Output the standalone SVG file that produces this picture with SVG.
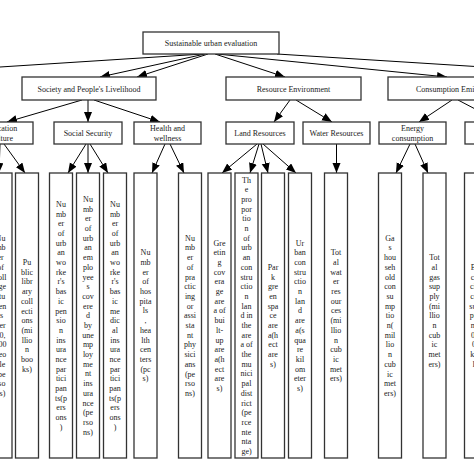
<svg xmlns="http://www.w3.org/2000/svg" width="474" height="474" viewBox="0 0 474 474">
<defs>
<marker id="ah" markerUnits="userSpaceOnUse" markerWidth="11" markerHeight="9" refX="10" refY="4" orient="auto">
<path d="M0,0 L10,4 L0,8 z" fill="#000"/>
</marker>
<style>
.box{fill:#fff;stroke:#333;stroke-width:1.3}
.t{font-family:"Liberation Serif","Times New Roman",serif;font-size:8px;fill:#222;text-anchor:middle}
.e{stroke:#000;stroke-width:1;fill:none;marker-end:url(#ah)}
</style>
</defs>
<rect width="474" height="474" fill="#fff"/>
<g id="connectors">
<line class="e" x1="203" y1="54" x2="-156" y2="77"/>
<line class="e" x1="205" y1="54" x2="100" y2="77"/>
<line class="e" x1="208" y1="54" x2="137" y2="77"/>
<line class="e" x1="215" y1="54" x2="285" y2="77"/>
<line class="e" x1="217" y1="54" x2="447" y2="77"/>
<line class="e" x1="277" y1="54" x2="642" y2="77"/>
<line class="e" x1="82" y1="100" x2="7" y2="122"/>
<line class="e" x1="88" y1="100" x2="88" y2="122"/>
<line class="e" x1="94" y1="100" x2="160" y2="122"/>
<line class="e" x1="290" y1="100" x2="274" y2="122"/>
<line class="e" x1="296" y1="100" x2="332" y2="122"/>
<line class="e" x1="452" y1="100" x2="419" y2="122"/>
<line class="e" x1="458" y1="100" x2="500" y2="122"/>
<line class="e" x1="0" y1="144" x2="-1" y2="173"/>
<line class="e" x1="4" y1="144" x2="25" y2="173"/>
<line class="e" x1="86" y1="144" x2="68" y2="173"/>
<line class="e" x1="88" y1="144" x2="88" y2="173"/>
<line class="e" x1="90" y1="144" x2="108" y2="173"/>
<line class="e" x1="165" y1="144" x2="152" y2="173"/>
<line class="e" x1="170" y1="144" x2="184" y2="173"/>
<line class="e" x1="257" y1="144" x2="222" y2="173"/>
<line class="e" x1="259" y1="144" x2="250" y2="173"/>
<line class="e" x1="261" y1="144" x2="268" y2="173"/>
<line class="e" x1="263" y1="144" x2="296" y2="173"/>
<line class="e" x1="336.5" y1="144" x2="336.5" y2="173"/>
<line class="e" x1="410" y1="144" x2="396" y2="173"/>
<line class="e" x1="415" y1="144" x2="428" y2="173"/>
</g>
<g id="root"><rect class="box" x="143" y="32" width="136" height="22"/><text class="t" x="211" y="46">Sustainable urban evaluation</text></g>
<g id="society"><rect class="box" x="22" y="77" width="134" height="23"/><text class="t" x="89" y="91.5">Society and People's Livelihood</text></g>
<g id="resource"><rect class="box" x="226" y="77" width="135" height="23"/><text class="t" x="293.5" y="91.5">Resource Environment</text></g>
<g id="consumption"><rect class="box" x="388" y="77" width="134" height="23"/><text class="t" x="455" y="91.5">Consumption Emissions</text></g>
<g id="education"><rect class="box" x="-31" y="122" width="64" height="22"/><text class="t" x="1" y="131"><tspan x="1">Education</tspan><tspan x="1" dy="9.5">Culture</tspan></text></g>
<g id="social"><rect class="box" x="54" y="122" width="68" height="22"/><text class="t" x="88" y="136">Social Security</text></g>
<g id="health"><rect class="box" x="134" y="122" width="67" height="22"/><text class="t" x="167.5" y="131"><tspan x="167.5">Health and</tspan><tspan x="167.5" dy="9.5">wellness</tspan></text></g>
<g id="land"><rect class="box" x="226" y="122" width="68" height="22"/><text class="t" x="260" y="136">Land Resources</text></g>
<g id="water"><rect class="box" x="303" y="122" width="67" height="22"/><text class="t" x="336.5" y="136">Water Resources</text></g>
<g id="energy"><rect class="box" x="379" y="122" width="67" height="22"/><text class="t" x="412.5" y="131"><tspan x="412.5">Energy</tspan><tspan x="412.5" dy="9.5">consumption</tspan></text></g>
<g id="next3"><rect class="box" x="465" y="122" width="67" height="22"/></g>

<g id="a"><rect class="box" x="-11" y="173" width="23" height="285"/><text class="t" y="240.7"><tspan x="0.5">Nu</tspan><tspan x="0.5" dy="9.7">mb</tspan><tspan x="0.5" dy="9.7">er</tspan><tspan x="0.5" dy="9.7">of</tspan><tspan x="0.5" dy="9.7">coll</tspan><tspan x="0.5" dy="9.7">ege</tspan><tspan x="0.5" dy="9.7">stu</tspan><tspan x="0.5" dy="9.7">den</tspan><tspan x="0.5" dy="9.7">ts</tspan><tspan x="0.5" dy="9.7">per</tspan><tspan x="0.5" dy="9.7">10,</tspan><tspan x="0.5" dy="9.7">000</tspan><tspan x="0.5" dy="9.7">peo</tspan><tspan x="0.5" dy="9.7">ple</tspan><tspan x="0.5" dy="9.7">(pe</tspan><tspan x="0.5" dy="9.7">rso</tspan><tspan x="0.5" dy="9.7">ns)</tspan></text></g>

<g id="b"><rect class="box" x="15.5" y="173" width="23" height="285"/><text class="t" y="265"><tspan x="27">Pu</tspan><tspan x="27" dy="9.7">blic</tspan><tspan x="27" dy="9.7">libr</tspan><tspan x="27" dy="9.7">ary</tspan><tspan x="27" dy="9.7">coll</tspan><tspan x="27" dy="9.7">ecti</tspan><tspan x="27" dy="9.7">ons</tspan><tspan x="27" dy="9.7">(mi</tspan><tspan x="27" dy="9.7">llio</tspan><tspan x="27" dy="9.7">n</tspan><tspan x="27" dy="9.7">boo</tspan><tspan x="27" dy="9.7">ks)</tspan></text></g>

<g id="c"><rect class="box" x="49.5" y="173" width="23" height="285"/><text class="t" y="206.8"><tspan x="61">Nu</tspan><tspan x="61" dy="9.7">mb</tspan><tspan x="61" dy="9.7">er</tspan><tspan x="61" dy="9.7">of</tspan><tspan x="61" dy="9.7">urb</tspan><tspan x="61" dy="9.7">an</tspan><tspan x="61" dy="9.7">wo</tspan><tspan x="61" dy="9.7">rke</tspan><tspan x="61" dy="9.7">r's</tspan><tspan x="61" dy="9.7">bas</tspan><tspan x="61" dy="9.7">ic</tspan><tspan x="61" dy="9.7">pen</tspan><tspan x="61" dy="9.7">sio</tspan><tspan x="61" dy="9.7">n</tspan><tspan x="61" dy="9.7">ins</tspan><tspan x="61" dy="9.7">ura</tspan><tspan x="61" dy="9.7">nce</tspan><tspan x="61" dy="9.7">par</tspan><tspan x="61" dy="9.7">tici</tspan><tspan x="61" dy="9.7">pan</tspan><tspan x="61" dy="9.7">ts(p</tspan><tspan x="61" dy="9.7">ers</tspan><tspan x="61" dy="9.7">ons</tspan><tspan x="61" dy="9.7">)</tspan></text></g>

<g id="d"><rect class="box" x="76.5" y="173" width="23" height="285"/><text class="t" y="201.9"><tspan x="88">Nu</tspan><tspan x="88" dy="9.7">mb</tspan><tspan x="88" dy="9.7">er</tspan><tspan x="88" dy="9.7">of</tspan><tspan x="88" dy="9.7">urb</tspan><tspan x="88" dy="9.7">an</tspan><tspan x="88" dy="9.7">em</tspan><tspan x="88" dy="9.7">plo</tspan><tspan x="88" dy="9.7">yee</tspan><tspan x="88" dy="9.7">s</tspan><tspan x="88" dy="9.7">cov</tspan><tspan x="88" dy="9.7">ere</tspan><tspan x="88" dy="9.7">d</tspan><tspan x="88" dy="9.7">by</tspan><tspan x="88" dy="9.7">une</tspan><tspan x="88" dy="9.7">mp</tspan><tspan x="88" dy="9.7">loy</tspan><tspan x="88" dy="9.7">me</tspan><tspan x="88" dy="9.7">nt</tspan><tspan x="88" dy="9.7">ins</tspan><tspan x="88" dy="9.7">ura</tspan><tspan x="88" dy="9.7">nce</tspan><tspan x="88" dy="9.7">(pe</tspan><tspan x="88" dy="9.7">rso</tspan><tspan x="88" dy="9.7">ns)</tspan></text></g>

<g id="e"><rect class="box" x="103.5" y="173" width="23" height="285"/><text class="t" y="206.8"><tspan x="115">Nu</tspan><tspan x="115" dy="9.7">mb</tspan><tspan x="115" dy="9.7">er</tspan><tspan x="115" dy="9.7">of</tspan><tspan x="115" dy="9.7">urb</tspan><tspan x="115" dy="9.7">an</tspan><tspan x="115" dy="9.7">wo</tspan><tspan x="115" dy="9.7">rke</tspan><tspan x="115" dy="9.7">r's</tspan><tspan x="115" dy="9.7">bas</tspan><tspan x="115" dy="9.7">ic</tspan><tspan x="115" dy="9.7">me</tspan><tspan x="115" dy="9.7">dic</tspan><tspan x="115" dy="9.7">al</tspan><tspan x="115" dy="9.7">ins</tspan><tspan x="115" dy="9.7">ura</tspan><tspan x="115" dy="9.7">nce</tspan><tspan x="115" dy="9.7">par</tspan><tspan x="115" dy="9.7">tici</tspan><tspan x="115" dy="9.7">pan</tspan><tspan x="115" dy="9.7">ts(p</tspan><tspan x="115" dy="9.7">ers</tspan><tspan x="115" dy="9.7">ons</tspan><tspan x="115" dy="9.7">)</tspan></text></g>

<g id="f"><rect class="box" x="134" y="173" width="23" height="285"/><text class="t" y="255.25"><tspan x="145.5">Nu</tspan><tspan x="145.5" dy="9.7">mb</tspan><tspan x="145.5" dy="9.7">er</tspan><tspan x="145.5" dy="9.7">of</tspan><tspan x="145.5" dy="9.7">hos</tspan><tspan x="145.5" dy="9.7">pita</tspan><tspan x="145.5" dy="9.7">ls</tspan><tspan x="145.5" dy="9.7">,</tspan><tspan x="145.5" dy="9.7">hea</tspan><tspan x="145.5" dy="9.7">lth</tspan><tspan x="145.5" dy="9.7">cen</tspan><tspan x="145.5" dy="9.7">ters</tspan><tspan x="145.5" dy="9.7">(pc</tspan><tspan x="145.5" dy="9.7">s)</tspan></text></g>

<g id="g"><rect class="box" x="178.5" y="173" width="23" height="285"/><text class="t" y="240.7"><tspan x="190">Nu</tspan><tspan x="190" dy="9.7">mb</tspan><tspan x="190" dy="9.7">er</tspan><tspan x="190" dy="9.7">of</tspan><tspan x="190" dy="9.7">pra</tspan><tspan x="190" dy="9.7">ctic</tspan><tspan x="190" dy="9.7">ing</tspan><tspan x="190" dy="9.7">or</tspan><tspan x="190" dy="9.7">assi</tspan><tspan x="190" dy="9.7">sta</tspan><tspan x="190" dy="9.7">nt</tspan><tspan x="190" dy="9.7">phy</tspan><tspan x="190" dy="9.7">sici</tspan><tspan x="190" dy="9.7">ans</tspan><tspan x="190" dy="9.7">(pe</tspan><tspan x="190" dy="9.7">rso</tspan><tspan x="190" dy="9.7">ns)</tspan></text></g>

<g id="h"><rect class="box" x="208" y="173" width="23" height="285"/><text class="t" y="245.55"><tspan x="219.5">Gre</tspan><tspan x="219.5" dy="9.7">etin</tspan><tspan x="219.5" dy="9.7">g</tspan><tspan x="219.5" dy="9.7">cov</tspan><tspan x="219.5" dy="9.7">era</tspan><tspan x="219.5" dy="9.7">ge</tspan><tspan x="219.5" dy="9.7">are</tspan><tspan x="219.5" dy="9.7">a of</tspan><tspan x="219.5" dy="9.7">bui</tspan><tspan x="219.5" dy="9.7">lt-</tspan><tspan x="219.5" dy="9.7">up</tspan><tspan x="219.5" dy="9.7">are</tspan><tspan x="219.5" dy="9.7">a(h</tspan><tspan x="219.5" dy="9.7">ect</tspan><tspan x="219.5" dy="9.7">are</tspan><tspan x="219.5" dy="9.7">s)</tspan></text></g>

<g id="i"><rect class="box" x="235" y="173" width="23" height="285"/><text class="t" y="182.5"><tspan x="246.5">Th</tspan><tspan x="246.5" dy="9.7">e</tspan><tspan x="246.5" dy="9.7">pro</tspan><tspan x="246.5" dy="9.7">por</tspan><tspan x="246.5" dy="9.7">tio</tspan><tspan x="246.5" dy="9.7">n</tspan><tspan x="246.5" dy="9.7">of</tspan><tspan x="246.5" dy="9.7">urb</tspan><tspan x="246.5" dy="9.7">an</tspan><tspan x="246.5" dy="9.7">con</tspan><tspan x="246.5" dy="9.7">stru</tspan><tspan x="246.5" dy="9.7">ctio</tspan><tspan x="246.5" dy="9.7">n</tspan><tspan x="246.5" dy="9.7">lan</tspan><tspan x="246.5" dy="9.7">d in</tspan><tspan x="246.5" dy="9.7">the</tspan><tspan x="246.5" dy="9.7">are</tspan><tspan x="246.5" dy="9.7">a of</tspan><tspan x="246.5" dy="9.7">the</tspan><tspan x="246.5" dy="9.7">mu</tspan><tspan x="246.5" dy="9.7">nici</tspan><tspan x="246.5" dy="9.7">pal</tspan><tspan x="246.5" dy="9.7">dist</tspan><tspan x="246.5" dy="9.7">rict</tspan><tspan x="246.5" dy="9.7">(pe</tspan><tspan x="246.5" dy="9.7">rce</tspan><tspan x="246.5" dy="9.7">nte</tspan><tspan x="246.5" dy="9.7">nta</tspan><tspan x="246.5" dy="9.7">ge)</tspan></text></g>

<g id="j"><rect class="box" x="261.5" y="173" width="23" height="285"/><text class="t" y="269.8"><tspan x="273">Par</tspan><tspan x="273" dy="9.7">k</tspan><tspan x="273" dy="9.7">gre</tspan><tspan x="273" dy="9.7">en</tspan><tspan x="273" dy="9.7">spa</tspan><tspan x="273" dy="9.7">ce</tspan><tspan x="273" dy="9.7">are</tspan><tspan x="273" dy="9.7">a(h</tspan><tspan x="273" dy="9.7">ect</tspan><tspan x="273" dy="9.7">are</tspan><tspan x="273" dy="9.7">s)</tspan></text></g>

<g id="k"><rect class="box" x="288.5" y="173" width="23" height="285"/><text class="t" y="245.55"><tspan x="300">Ur</tspan><tspan x="300" dy="9.7">ban</tspan><tspan x="300" dy="9.7">con</tspan><tspan x="300" dy="9.7">stru</tspan><tspan x="300" dy="9.7">ctio</tspan><tspan x="300" dy="9.7">n</tspan><tspan x="300" dy="9.7">lan</tspan><tspan x="300" dy="9.7">d</tspan><tspan x="300" dy="9.7">are</tspan><tspan x="300" dy="9.7">a(s</tspan><tspan x="300" dy="9.7">qua</tspan><tspan x="300" dy="9.7">re</tspan><tspan x="300" dy="9.7">kil</tspan><tspan x="300" dy="9.7">om</tspan><tspan x="300" dy="9.7">eter</tspan><tspan x="300" dy="9.7">s)</tspan></text></g>

<g id="l"><rect class="box" x="324.5" y="173" width="23" height="285"/><text class="t" y="255.25"><tspan x="336">Tot</tspan><tspan x="336" dy="9.7">al</tspan><tspan x="336" dy="9.7">wat</tspan><tspan x="336" dy="9.7">er</tspan><tspan x="336" dy="9.7">res</tspan><tspan x="336" dy="9.7">our</tspan><tspan x="336" dy="9.7">ces</tspan><tspan x="336" dy="9.7">(mi</tspan><tspan x="336" dy="9.7">llio</tspan><tspan x="336" dy="9.7">n</tspan><tspan x="336" dy="9.7">cub</tspan><tspan x="336" dy="9.7">ic</tspan><tspan x="336" dy="9.7">met</tspan><tspan x="336" dy="9.7">ers)</tspan></text></g>

<g id="m"><rect class="box" x="378.5" y="173" width="23" height="285"/><text class="t" y="240.7"><tspan x="390">Ga</tspan><tspan x="390" dy="9.7">s</tspan><tspan x="390" dy="9.7">hou</tspan><tspan x="390" dy="9.7">seh</tspan><tspan x="390" dy="9.7">old</tspan><tspan x="390" dy="9.7">con</tspan><tspan x="390" dy="9.7">su</tspan><tspan x="390" dy="9.7">mp</tspan><tspan x="390" dy="9.7">tio</tspan><tspan x="390" dy="9.7">n(</tspan><tspan x="390" dy="9.7">mil</tspan><tspan x="390" dy="9.7">lio</tspan><tspan x="390" dy="9.7">n</tspan><tspan x="390" dy="9.7">cub</tspan><tspan x="390" dy="9.7">ic</tspan><tspan x="390" dy="9.7">met</tspan><tspan x="390" dy="9.7">ers)</tspan></text></g>

<g id="n"><rect class="box" x="423" y="173" width="23" height="285"/><text class="t" y="260.1"><tspan x="434.5">Tot</tspan><tspan x="434.5" dy="9.7">al</tspan><tspan x="434.5" dy="9.7">gas</tspan><tspan x="434.5" dy="9.7">sup</tspan><tspan x="434.5" dy="9.7">ply</tspan><tspan x="434.5" dy="9.7">(mi</tspan><tspan x="434.5" dy="9.7">llio</tspan><tspan x="434.5" dy="9.7">n</tspan><tspan x="434.5" dy="9.7">cub</tspan><tspan x="434.5" dy="9.7">ic</tspan><tspan x="434.5" dy="9.7">met</tspan><tspan x="434.5" dy="9.7">ers)</tspan></text></g>

<g id="o"><rect class="box" x="464.5" y="173" width="23" height="285"/><text class="t" y="269.8"><tspan x="476">Ele</tspan><tspan x="476" dy="9.7">ctri</tspan><tspan x="476" dy="9.7">city</tspan><tspan x="476" dy="9.7">con</tspan><tspan x="476" dy="9.7">sum</tspan><tspan x="476" dy="9.7">ptio</tspan><tspan x="476" dy="9.7">n(1</tspan><tspan x="476" dy="9.7">0,0</tspan><tspan x="476" dy="9.7">00</tspan><tspan x="476" dy="9.7">kW</tspan><tspan x="476" dy="9.7">h)</tspan></text></g>
</svg>
